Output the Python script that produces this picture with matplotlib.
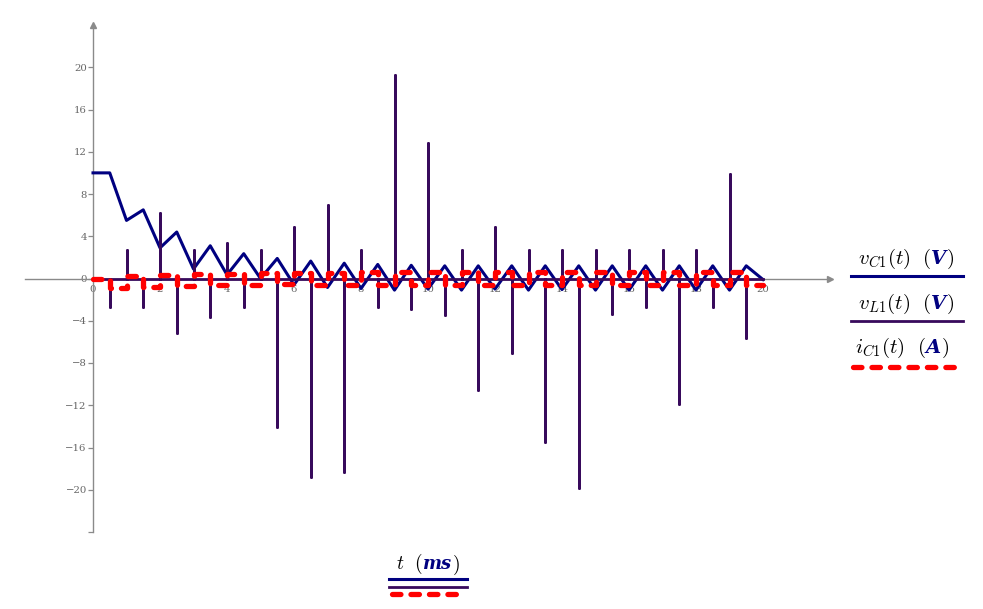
import numpy as np
import matplotlib
matplotlib.use('Agg')
import matplotlib.pyplot as plt
from matplotlib.offsetbox import TextArea, HPacker, AnnotationBbox
from matplotlib.lines import Line2D

plt.rcParams['mathtext.fontset'] = 'cm'
plt.rcParams['font.family'] = ['DejaVu Serif']

# ---------------- data ----------------
vc1_t = [0, 0.5, 1, 1.5, 2, 2.5, 3, 3.5, 4, 4.5, 5, 5.5, 6, 6.5, 7, 7.5, 8, 8.5, 9, 9.5,
         10, 10.5, 11, 11.5, 12, 12.5, 13, 13.5, 14, 14.5, 15, 15.5, 16, 16.5, 17, 17.5,
         18, 18.5, 19, 19.5, 20]
vc1_v = [10, 10, 5.5, 6.5, 2.9, 4.4, 0.9, 3.1, 0.35, 2.35, 0.0, 1.9, -0.6, 1.65, -0.85, 1.45,
         -0.95, 1.33, -1.1, 1.25, -1.0, 1.2, -1.1, 1.2, -1.0, 1.2, -1.1, 1.2, -1.05, 1.2,
         -1.1, 1.2, -1.1, 1.2, -1.1, 1.2, -1.1, 1.2, -1.1, 1.2, -0.1]

vl1_spike_t = [0.5, 1, 1.5, 2, 2.5, 3, 3.5, 4, 4.5, 5, 5.5, 6, 6.5, 7, 7.5, 8, 8.5, 9, 9.5,
               10, 10.5, 11, 11.5, 12, 12.5, 13, 13.5, 14, 14.5, 15, 15.5, 16, 16.5, 17,
               17.5, 18, 18.5, 19, 19.5]
vl1_spike_v = [-2.7, 2.7, -2.7, 6.2, -5.2, 2.7, -3.6, 3.4, -2.7, 2.7, -14.1, 4.9, -18.8,
               7.0, -18.3, 2.7, -2.7, 19.3, -2.9, 12.8, -3.5, 2.7, -10.6, 4.9, -7.1, 2.7,
               -15.5, 2.7, -19.8, 2.7, -3.4, 2.7, -2.7, 2.7, -11.9, 2.7, -2.7, 9.9, -5.6]
vl1_t_start, vl1_t_end = 0, 20

ic1_t = [0, 0.5, 1, 1.5, 2, 2.5, 3, 3.5, 4, 4.5, 5, 5.5, 6, 6.5, 7, 7.5, 8, 8.5, 9, 9.5,
         10, 10.5, 11, 11.5, 12, 12.5, 13, 13.5, 14, 14.5, 15, 15.5, 16, 16.5, 17, 17.5,
         18, 18.5, 19, 19.5, 20]
ic1_v = [0, -0.9, 0.22, -0.85, 0.3, -0.75, 0.42, -0.65, 0.45, -0.6, 0.5, -0.55, 0.55,
         -0.57, 0.55, -0.58, 0.57, -0.58, 0.57, -0.58, 0.57, -0.58, 0.57, -0.58, 0.57,
         -0.58, 0.57, -0.58, 0.57, -0.58, 0.57, -0.58, 0.57, -0.58, 0.57, -0.58, 0.57,
         -0.58, 0.57, -0.58, -0.58]

x_ticks = [0, 2, 4, 6, 8, 10, 12, 14, 16, 18, 20]
x_tick_labels = ['0', '2', '4', '6', '8', '10', '12', '14', '16', '18', '20']
y_ticks = [20, 16, 12, 8, 4, 0, -4, -8, -12, -16, -20, -24]
y_tick_labels = ['20', '16', '12', '8', '4', '0', '\u22124', '\u22128', '\u221212',
                 '\u221216', '\u221220', '']

C_VC1 = '#000080'
C_VL1 = '#380a5c'
C_IC1 = '#ff0000'
C_AX = '#8a8a8a'
C_TICK = '#666666'

# ---------------- figure ----------------
W, H = 983, 609
fig = plt.figure(figsize=(W / 100, H / 100), dpi=100)
ax = fig.add_axes([25 / W, 1 - 532 / H, 805 / W, 507 / H])
ax.set_xlim(-2.03, 22.0)
ax.set_ylim(-24, 24)

for s in ['top', 'right']:
    ax.spines[s].set_visible(False)
for s in ['left', 'bottom']:
    ax.spines[s].set_position(('data', 0))
    ax.spines[s].set_color(C_AX)
    ax.spines[s].set_linewidth(1.0)

ax.set_xticks(x_ticks)
ax.set_xticklabels(x_tick_labels)
ax.set_yticks(y_ticks)
ax.set_yticklabels(y_tick_labels)
ax.tick_params(axis='y', direction='out', length=3.5, width=0.9, colors=C_AX,
               labelcolor=C_TICK, labelsize=7.3, pad=1)
ax.tick_params(axis='x', direction='out', length=0, colors=C_AX,
               labelcolor=C_TICK, labelsize=7.3, pad=4.5)

# arrow heads
ax.plot(1, 0, '>', color=C_AX, markersize=5, transform=ax.get_yaxis_transform(), clip_on=False)
ax.plot(0, 1, '^', color=C_AX, markersize=5, transform=ax.get_xaxis_transform(), clip_on=False)

# traces
ax.plot(vc1_t, vc1_v, color=C_VC1, lw=2.2, zorder=3)

xs = [vl1_t_start]
ys = [0]
for t, v in zip(vl1_spike_t, vl1_spike_v):
    xs += [t, t, t]
    ys += [0, v, 0]
xs.append(vl1_t_end)
ys.append(0)
ax.plot(xs, ys, color=C_VL1, lw=2.0, zorder=4)

ax.plot(ic1_t, ic1_v, drawstyle='steps-post', color=C_IC1, lw=3.8,
        dashes=(1.6, 1.9), dash_capstyle='round', zorder=5)


# ---------------- legend / axis label ----------------
def label_box(parts, size=14):
    children = []
    for text, kind in parts:
        if kind == 'math':
            children.append(TextArea(text, textprops=dict(fontsize=size, color='black')))
        else:
            children.append(TextArea(text, textprops=dict(fontsize=size - 1, color=C_VC1,
                                                          fontweight='bold', fontstyle='italic',
                                                          family='DejaVu Serif')))
    return HPacker(children=children, align='baseline', pad=0, sep=0)


def place(box, xp, yp):
    ab = AnnotationBbox(box, (xp / W, 1 - yp / H), xycoords='figure fraction',
                        frameon=False, box_alignment=(0.5, 0.5), pad=0,
                        annotation_clip=False)
    ax.add_artist(ab)


def fig_line(x0, x1, yp, **kw):
    fig.add_artist(Line2D([x0 / W, x1 / W], [1 - yp / H, 1 - yp / H],
                          transform=fig.transFigure, **kw))


place(label_box([(r'$v_{C1}(t)\ \ ($', 'math'), ('V', 'bold'), (r'$)$', 'math')], 15), 906, 259)
place(label_box([(r'$v_{L1}(t)\ \ ($', 'math'), ('V', 'bold'), (r'$)$', 'math')], 15), 906, 304)
place(label_box([(r'$i_{C1}(t)\ \ ($', 'math'), ('A', 'bold'), (r'$)$', 'math')], 15), 902, 348)
fig_line(851, 963, 276, color=C_VC1, lw=2.2)
fig_line(851, 963, 321, color=C_VL1, lw=2.0)
fig_line(853, 957, 367, color=C_IC1, lw=3.8, dashes=(1.6, 1.9), dash_capstyle='round')

place(label_box([(r'$t\ \ ($', 'math'), ('ms', 'bold'), (r'$)$', 'math')], 14), 428, 564)
fig_line(389, 467, 579, color=C_VC1, lw=2.2)
fig_line(389, 467, 586.5, color=C_VL1, lw=2.0)
fig_line(392, 460, 593.5, color=C_IC1, lw=3.8, dashes=(1.6, 1.9), dash_capstyle='round')

fig.savefig('out.png', dpi=100)
